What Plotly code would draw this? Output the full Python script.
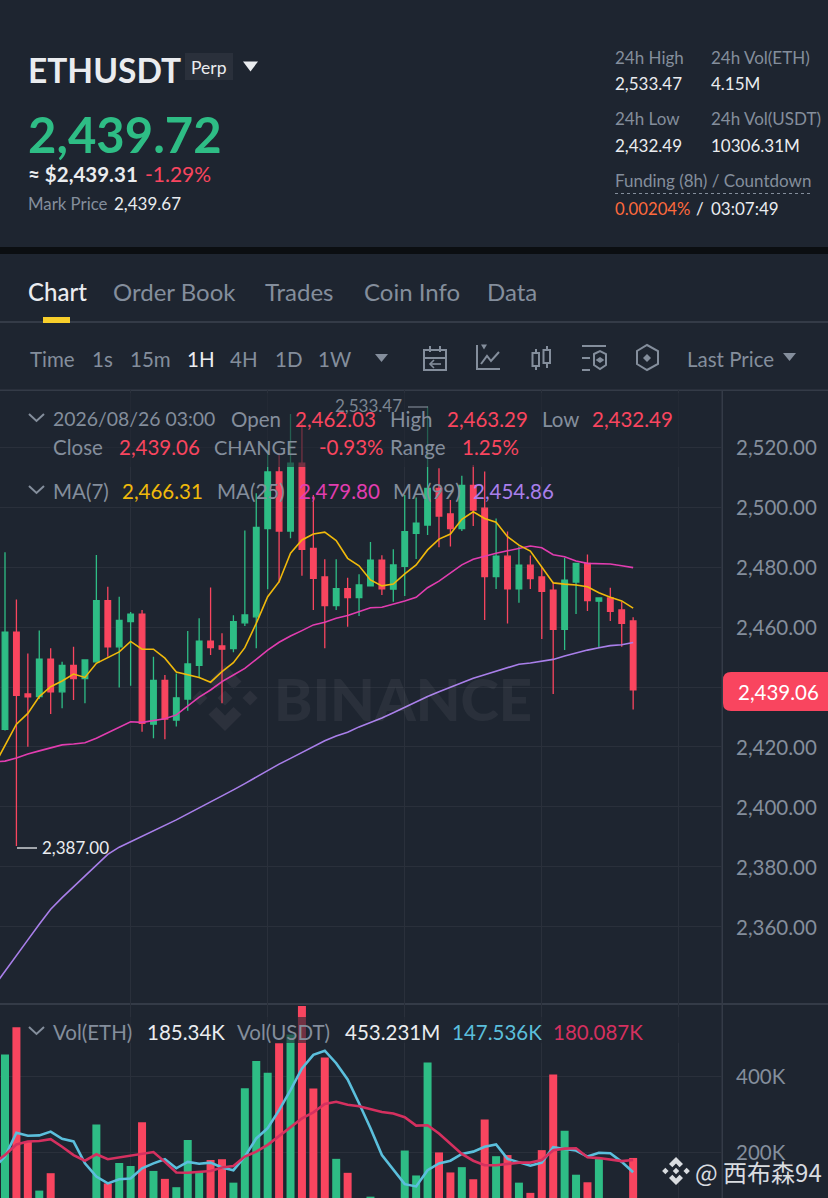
import plotly.graph_objects as go

W, H = 828, 1198
OPEN = [2425.9,2458.3,2437.7,2436.8,2449.3,2438.4,2447.2,2442.8,2448.4,2468.8,2453.4,2461.8,2464.3,2427.6,2442.2,2429.0,2436.0,2447.2,2455.3,2453.7,2452.8,2461.4,2463.4,2492.8,2511.7,2492.0,2514.6,2486.2,2476.7,2467.1,2472.8,2469.8,2473.7,2482.3,2472.6,2480.2,2491.2,2494.0,2506.2,2497.7,2492.8,2507.2,2499.6,2476.8,2483.6,2472.7,2480.6,2476.7,2472.3,2459.2,2475.0,2481.2,2468.6,2469.7,2465.7,2462.03]
HIGH = [2484.9,2469.2,2451.2,2458.8,2452.9,2448.4,2453.4,2449.2,2484.0,2473.4,2470.1,2465.0,2465.7,2450.1,2444.0,2444.5,2458.7,2462.9,2473.2,2457.9,2463.9,2492.2,2504.6,2519.0,2517.9,2531.0,2527.9,2504.0,2482.6,2482.6,2476.4,2477.6,2488.3,2483.9,2485.9,2504.0,2503.2,2533.47,2512.9,2502.3,2510.4,2514.0,2511.8,2496.2,2491.8,2486.8,2483.8,2480.1,2475.1,2483.1,2481.2,2484.2,2469.9,2473.1,2468.4,2463.29]
LOW = [2425.5,2387.0,2420.1,2436.0,2431.0,2432.9,2435.7,2434.6,2448.4,2450.1,2439.8,2440.4,2425.1,2422.9,2422.6,2426.8,2432.1,2443.2,2450.7,2434.6,2451.6,2460.3,2452.9,2472.6,2474.8,2489.6,2477.1,2465.7,2452.9,2465.7,2460.1,2463.7,2473.7,2470.7,2468.4,2470.3,2482.7,2490.7,2486.6,2486.8,2492.0,2493.7,2462.3,2472.7,2461.2,2468.1,2472.7,2456.0,2437.7,2452.3,2464.3,2465.3,2453.2,2462.0,2453.4,2432.49]
CLOSE = [2458.3,2437.2,2436.7,2449.3,2438.4,2447.2,2442.8,2449.0,2468.8,2453.4,2462.2,2464.3,2427.9,2442.2,2429.3,2436.4,2447.7,2455.3,2453.1,2452.6,2461.8,2464.0,2493.2,2511.7,2492.0,2514.6,2485.9,2476.2,2467.1,2472.8,2469.8,2474.0,2482.3,2472.7,2480.7,2491.8,2494.6,2506.2,2497.0,2492.8,2507.2,2499.0,2476.8,2483.6,2472.7,2480.6,2476.1,2471.9,2459.2,2475.6,2481.2,2468.8,2469.7,2465.2,2461.2,2439.06]
MA7 = [2413.4,2420.7,2427.6,2431.2,2436.8,2440.1,2442.0,2444.3,2443.2,2447.9,2449.9,2451.7,2455.2,2452.6,2452.6,2449.6,2445.0,2444.1,2443.2,2441.6,2445.1,2448.1,2453.1,2461.2,2470.1,2475.1,2484.6,2489.0,2491.0,2491.6,2488.8,2482.9,2480.4,2475.7,2473.7,2474.3,2477.7,2480.7,2485.7,2489.3,2491.0,2495.9,2498.4,2496.2,2494.9,2490.1,2487.3,2485.3,2480.1,2474.7,2474.3,2474.0,2473.4,2471.4,2469.9,2468.7,2466.31]
MA25 = [2415.0,2415.3,2416.3,2417.7,2418.7,2419.6,2420.7,2421.0,2421.4,2422.9,2424.8,2426.6,2428.4,2428.2,2428.8,2429.4,2430.7,2433.7,2436.6,2439.0,2441.8,2444.0,2446.2,2449.2,2452.3,2454.9,2457.0,2458.8,2460.7,2461.6,2462.9,2463.8,2465.1,2466.4,2466.6,2467.6,2468.7,2469.9,2473.1,2475.3,2478.1,2480.7,2482.6,2483.7,2484.6,2485.4,2486.1,2487.0,2486.4,2484.1,2483.4,2482.0,2481.2,2481.1,2481.0,2480.4,2479.8]
MA99 = [2340.0,2345.1,2350.4,2355.7,2360.9,2365.9,2369.8,2373.4,2377.0,2380.6,2384.2,2386.6,2388.4,2390.1,2392.0,2393.7,2395.7,2397.7,2399.7,2401.5,2403.7,2405.7,2407.8,2410.0,2412.1,2414.3,2416.2,2418.2,2420.3,2422.1,2423.7,2424.9,2426.7,2428.1,2429.7,2431.4,2433.2,2435.1,2436.8,2438.4,2439.9,2441.4,2442.9,2444.1,2445.3,2446.4,2447.6,2448.0,2448.6,2449.2,2450.3,2451.4,2452.3,2453.1,2453.8,2454.1,2454.86]
VOLUME = [459,531,228,99,145,60,40,70,274,118,172,164,280,151,130,108,233,149,180,182,120,370,442,411,489,512,587,369,451,183,146,70,83,60,50,205,139,438,200,147,161,129,287,190,193,120,93,206,406,257,141,121,184,60,50,185.34]
VOL_MA_FAST = [158,189,252,244,245,255,236,229,171,136,118,129,131,158,171,182,158,175,170,173,160,153,189,237,264,312,365,422,458,469,436,393,330,264,193,153,116,110,153,171,178,196,202,215,221,183,173,165,173,214,209,205,189,199,198,175,147.536]
VOL_MA_SLOW = [171,193,221,229,230,235,215,193,178,195,182,187,193,198,201,175,147,146,148,151,160,164,189,202,220,243,268,290,306,328,334,326,322,315,307,303,293,271,272,250,223,196,178,166,166,170,173,173,180,206,210,211,187,185,182,177,180.087]
PRICE_TICKS = [2360,2380,2400,2420,2440,2460,2480,2500,2520]
PRICE_TICK_TEXT = ["2,360.00","2,380.00","2,400.00","2,420.00","","2,460.00","2,480.00","2,500.00","2,520.00"]
GRID_X = [-1,11,23,35,47,59]
VOL_TICKS = [200,400]
VOL_TICK_TEXT = ["200K","400K"]

BG = "#1E2530"; GREEN = "#2EBD85"; RED = "#F9455F"; GREY = "#848E9C"; WHITE = "#EAECEF"
GRID = "#2A303B"; SEP = "#343B47"; YEL = "#F0B90B"; PINK = "#E23DB0"; PUR = "#A97FEA"
BLUE = "#5BBFDC"; CRIM = "#D5305F"
FONT = "Lato"
IDX = list(range(56)); MAX = list(range(-1, 56))

def X(p): return p / W
def Y(p): return 1 - p / H

shapes, annos = [], []
def rect(x0, y0, x1, y1, color, layer="below"):
    shapes.append(dict(type="rect", xref="paper", yref="paper", x0=X(x0), x1=X(x1), y0=Y(y0), y1=Y(y1),
                       fillcolor=color, line=dict(width=0), layer=layer))
def line(pts, color, width=2, closed=False, fill=None, layer="above", dash=None):
    d = "M" + " L".join(f"{X(a):.5f},{Y(b):.5f}" for a, b in pts) + (" Z" if closed else "")
    ln = dict(color=color, width=width)
    if dash: ln["dash"] = dash
    if width == 0: ln = dict(width=0)
    s = dict(type="path", xref="paper", yref="paper", path=d, line=ln, layer=layer)
    if fill: s["fillcolor"] = fill
    shapes.append(s)
def tri(cx, cy, w, h, color):
    line([(cx-w/2, cy-h/2), (cx+w/2, cy-h/2), (cx, cy+h/2)], color, 0, True, color)
def txt(x, y, s, color=GREY, size=19, anchor="left", weight=400, font=FONT):
    annos.append(dict(xref="paper", yref="paper", x=X(x-1), y=Y(y), text=s, showarrow=False, xanchor=anchor,
                      yanchor="middle", borderpad=0, font=dict(family=font, size=size, color=color, weight=weight)))
def logo(cx, cy, r, color, layer="below"):
    def poly(pts): line([(cx+a*r, cy+b*r) for a, b in pts], color, 0, True, color, layer)
    for c in [(-0.76, 0), (0.76, 0), (0, 0)]:
        poly([(c[0], c[1]-0.23), (c[0]+0.23, c[1]), (c[0], c[1]+0.23), (c[0]-0.23, c[1])])
    poly([(-0.5,-0.5),(0,-1),(0.5,-0.5),(0.26,-0.27),(0,-0.53),(-0.26,-0.27)])
    poly([(-0.5,0.5),(0,1),(0.5,0.5),(0.26,0.27),(0,0.53),(-0.26,0.27)])

# page furniture
rect(0, 247, W, 254, "#0B0E11")
rect(0, 321, W, 323, SEP)
rect(43, 317, 70, 323, "#F8CF2B")
rect(0, 389.5, W, 391, SEP)
rect(0, 1003, W, 1005, SEP)
rect(721.5, 391, 723, H, SEP)
rect(185, 53, 233, 80, "#2A303B")
logo(225, 698, 33, "#2C313C")

# header
txt(28, 70, "ETHUSDT", WHITE, 33.5, weight=700)
txt(191, 67, "Perp", WHITE, 17.5)
tri(250.5, 66.5, 15, 10, WHITE)
txt(28, 134, "2,439.72", GREEN, 49, weight=700)
txt(28, 174, "≈ $2,439.31", WHITE, 20.5, weight=700)
txt(145, 174, "-1.29%", RED, 21)
txt(28, 204, "Mark Price", GREY, 16.8)
txt(114, 204, "2,439.67", WHITE, 17)
txt(615, 57, "24h High", GREY, 17); txt(711, 57, "24h Vol(ETH)", GREY, 17)
txt(615, 84, "2,533.47", WHITE, 17); txt(711, 84, "4.15M", WHITE, 17)
txt(615, 118, "24h Low", GREY, 17); txt(711, 118, "24h Vol(USDT)", GREY, 17)
txt(615, 146, "2,432.49", WHITE, 17); txt(711, 146, "10306.31M", WHITE, 17)
txt(615, 180, "Funding (8h) / Countdown", GREY, 17)
line([(615, 193.5), (812, 193.5)], GREY, 1.2, dash="dot")
txt(615, 209, "0.00204%", "#FF6A3D", 16.7)
txt(696, 209, "/", WHITE, 17); txt(711, 209, "03:07:49", WHITE, 17)

# tabs and toolbar
for x, s, c in [(28,"Chart",WHITE),(113,"Order Book",GREY),(265,"Trades",GREY),(364,"Coin Info",GREY),(487,"Data",GREY)]:
    txt(x, 291, s, c, 24, weight=500 if s == "Chart" else 400)
for x, s, c in [(30,"Time",GREY),(92,"1s",GREY),(130,"15m",GREY),(187,"1H",WHITE),(230,"4H",GREY),(275,"1D",GREY),(318,"1W",GREY),(687,"Last Price",GREY)]:
    txt(x, 359, s, c, 20.5)
tri(381.5, 358, 13, 8, GREY); tri(789.5, 357, 13, 8, GREY)
# calendar icon
line([(424,350),(446,350),(446,370),(424,370)], GREY, 2, True)
line([(424,358),(446,358)], GREY, 2)
line([(430,346),(430,352)], GREY, 2); line([(440,346),(440,352)], GREY, 2)
line([(441,364),(430,364)], GREY, 1.6); line([(434,360),(430,364),(434,368)], GREY, 1.6)
# indicator icon
line([(477,345),(477,369),(500,369)], GREY, 2)
line([(481,364),(487,356),(491,361),(499,352)], GREY, 2)
tri(484, 347, 6, 5, GREY)
# candle icon
line([(532.5,353),(539,353),(539,366),(532.5,366)], GREY, 2, True)
line([(543.5,350),(550,350),(550,363),(543.5,363)], GREY, 2, True)
line([(536,349),(536,353)], GREY, 2); line([(536,366),(536,370)], GREY, 2)
line([(547,346),(547,350)], GREY, 2); line([(547,363),(547,368)], GREY, 2)
# settings icon
line([(582,346),(606,346)], GREY, 2); line([(582,358),(590,358)], GREY, 2); line([(582,370),(590,370)], GREY, 2)
line([(594,354),(600,351),(606,354),(606,365),(600,369),(594,365)], GREY, 2, True)
line([(600,358),(603,360),(600,362),(597,360)], GREY, 1.5, True, GREY)
# hexagon icon
line([(647,345),(658,351),(658,364),(647,370),(637,364),(637,351)], GREY, 2, True)
line([(647,354),(651,358),(647,362),(643,358)], GREY, 0, True, GREY)

# legend rows
for yy in (418, 490, 1031):
    line([(29, yy-4), (36.5, yy+3), (44, yy-4)], GREY, 2)
for x, y, s, c, fs in [
    (53,419,"2026/08/26 03:00",GREY,19.4),(231,419,"Open",GREY,20.5),(295,419,"2,462.03",RED,20.5),(390,419,"High",GREY,20.5),
    (447,419,"2,463.29",RED,20.5),(542,419,"Low",GREY,20.5),(592,419,"2,432.49",RED,20.5),
    (53,447,"Close",GREY,20.5),(119,447,"2,439.06",RED,20.5),(214,447,"CHANGE",GREY,20),(319,447,"-0.93%",RED,20.5),(390,447,"Range",GREY,20.5),(462,447,"1.25%",RED,20.5),
    (53,491,"MA(7)",GREY,20.5),(122,491,"2,466.31",YEL,20.5),(217,491,"MA(25)",GREY,20.5),(299,491,"2,479.80",PINK,20.5),(393,491,"MA(99)",GREY,20.5),(473,491,"2,454.86",PUR,20.5),
    (53,1032,"Vol(ETH)",GREY,20.5),(147,1032,"185.34K",WHITE,20.5),(237,1032,"Vol(USDT)",GREY,20.5),(345,1032,"453.231M",WHITE,20.5),(452,1032,"147.536K",BLUE,20.5),(553,1032,"180.087K",CRIM,20.5)]:
    txt(x, y, s, c, fs)

# dim bands behind the legend text
rect(50, 393, 680, 467, "rgba(30,37,48,0.62)", "above")
rect(50, 1017, 680, 1043, "rgba(30,37,48,0.62)", "above")

# high / low markers and last price tag
txt(335, 405, "2,533.47", "#7C8592", 17)
line([(408,407),(428,407)], "#7C8592", 1.2)
line([(17,848),(37,848)], WHITE, 1.3)
txt(42, 848, "2,387.00", WHITE, 17)
shapes.append(dict(type="path", xref="paper", yref="paper",
    path=f"M{X(828):.5f},{Y(672):.5f} L{X(731):.5f},{Y(672):.5f} Q{X(723):.5f},{Y(672):.5f} {X(723):.5f},{Y(680):.5f} "
         f"L{X(723):.5f},{Y(703):.5f} Q{X(723):.5f},{Y(711):.5f} {X(731):.5f},{Y(711):.5f} L{X(828):.5f},{Y(711):.5f} Z",
    fillcolor=RED, line=dict(width=0)))
txt(738, 692, "2,439.06", "#FFFFFF", 20.5)

# watermarks
annos.append(dict(xref="paper", yref="paper", x=X(403), y=Y(698), text="BINANCE", showarrow=False, xanchor="center", yanchor="middle",
                  font=dict(family=FONT, size=58, color="rgba(255,255,255,0.055)", weight=900)))
logo(676, 1171, 14, "#D9DCE0", "above")
txt(695, 1171, "@ 西布森94", "#D9DCE0", 24, font="Noto Sans CJK SC")

fig = go.Figure()
fig.add_trace(go.Candlestick(x=IDX, open=OPEN, high=HIGH, low=LOW, close=CLOSE, xaxis="x", yaxis="y",
    increasing=dict(line=dict(color=GREEN, width=1.3), fillcolor=GREEN),
    decreasing=dict(line=dict(color=RED, width=1.3), fillcolor=RED), whiskerwidth=0, hoverinfo="skip"))
for ys, c in [(MA99, PUR), (MA25, PINK), (MA7, YEL)]:
    fig.add_trace(go.Scatter(x=MAX, y=ys, mode="lines", line=dict(color=c, width=1.6), xaxis="x", yaxis="y", hoverinfo="skip"))
vol_colors = [GREEN if c >= o else RED for o, c in zip(OPEN, CLOSE)]
fig.add_trace(go.Bar(x=IDX, y=VOLUME, width=0.7, marker=dict(color=vol_colors, line=dict(width=0)), xaxis="x2", yaxis="y2", hoverinfo="skip"))
fig.add_trace(go.Scatter(x=MAX, y=VOL_MA_FAST, mode="lines", line=dict(color=BLUE, width=2.6), xaxis="x2", yaxis="y2", hoverinfo="skip"))
fig.add_trace(go.Scatter(x=MAX, y=VOL_MA_SLOW, mode="lines", line=dict(color=CRIM, width=2.6), xaxis="x2", yaxis="y2", hoverinfo="skip"))

xrange = [-0.4378, 62.78]
xax = dict(range=xrange, domain=[0, 722/828], tickvals=GRID_X, showticklabels=False, showgrid=True, gridcolor=GRID, gridwidth=1,
           zeroline=False, showline=False, ticks="", fixedrange=True)
fig.update_layout(
    width=W, height=H, margin=dict(l=0, r=0, t=0, b=0), autosize=False, showlegend=False,
    paper_bgcolor=BG, plot_bgcolor=BG, shapes=shapes, annotations=annos,
    xaxis=dict(xax, anchor="y", rangeslider=dict(visible=False)),
    xaxis2=dict(xax, anchor="y2", matches="x"),
    yaxis=dict(domain=[1-1004/H, 1-390/H], range=[2334.33, 2539], anchor="free", position=735/W, side="right", tickvals=PRICE_TICKS,
               ticktext=PRICE_TICK_TEXT, ticklabelshift=1, tickfont=dict(family=FONT, size=20.5, color=GREY), showgrid=True, gridcolor=GRID, gridwidth=1,
               zeroline=False, showline=False, ticks="", fixedrange=True),
    yaxis2=dict(domain=[0, 194/H], range=[79.4, 592.6], anchor="free", position=735/W, side="right", tickvals=VOL_TICKS, ticktext=VOL_TICK_TEXT,
                tickfont=dict(family=FONT, size=20.5, color=GREY), showgrid=True, gridcolor=GRID, gridwidth=1,
                zeroline=False, showline=False, ticks="", fixedrange=True),
)
fig.write_html("out.html", config=dict(displayModeBar=False),
               post_script="document.body.style.margin='0';document.body.style.background='#1E2530';document.documentElement.style.overflow='hidden';")
